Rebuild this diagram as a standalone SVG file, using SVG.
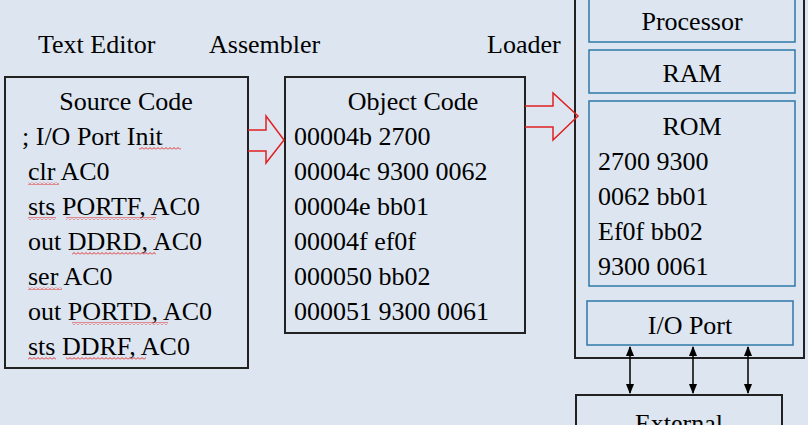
<svg xmlns="http://www.w3.org/2000/svg" width="808" height="425" viewBox="0 0 808 425" font-family="'Liberation Serif', 'DejaVu Serif', serif" font-size="26">
<defs>
<style>
text{font-family:'Liberation Serif','DejaVu Serif',serif;font-size:26px;fill:#000}
.c{text-anchor:middle}
.box{fill:none;stroke:#222;stroke-width:2}
.blue{fill:none;stroke:#2e78a8;stroke-width:1.5}
.hol{fill:none;stroke:#e02020;stroke-width:1.5}
.sq{fill:none;stroke:#e03030;stroke-width:1}
.bi{stroke:#000;stroke-width:1.5;marker-start:url(#ah);marker-end:url(#ah)}
</style>
<marker id="ah" viewBox="0 0 10 10" refX="9" refY="5" markerWidth="7" markerHeight="7" orient="auto-start-reverse"><path d="M0,1L10,5L0,9z" fill="#000"/></marker>
<pattern id="wv" width="4" height="3" patternUnits="userSpaceOnUse"><path d="M0,2.5L2,0.5L4,2.5" class="sq"/></pattern>
</defs>
<rect width="808" height="425" fill="#dde6f0"/>
<text x="38" y="53">Text Editor</text>
<text x="209" y="53">Assembler</text>
<text x="487" y="53">Loader</text>
<g id="source">
<rect class="box" x="5" y="77" width="243" height="291"/>
<text class="c" x="126" y="110">Source Code</text>
<text x="22" y="145">; I/O Port Init</text>
<text x="28" y="180">clr AC0</text>
<text x="28" y="215">sts PORTF, AC0</text>
<text x="28" y="250">out DDRD, AC0</text>
<text x="28" y="285">ser AC0</text>
<text x="28" y="320">out PORTD, AC0</text>
<text x="28" y="355">sts DDRF, AC0</text>
<g fill="url(#wv)">
<rect x="139" y="147" width="42" height="3"/>
<rect x="28" y="182" width="31" height="3"/>
<rect x="28" y="217" width="28" height="3"/>
<rect x="66" y="217" width="90" height="3"/>
<rect x="72" y="252" width="84" height="3"/>
<rect x="28" y="287" width="34" height="3"/>
<rect x="72" y="322" width="96" height="3"/>
<rect x="28" y="357" width="28" height="3"/>
<rect x="66" y="357" width="80" height="3"/>
</g>
</g>
<g id="object">
<rect class="box" x="285" y="77" width="240" height="256"/>
<text class="c" x="413" y="110">Object Code</text>
<text x="294" y="145">00004b 2700</text>
<text x="294" y="180">00004c 9300 0062</text>
<text x="294" y="215">00004e bb01</text>
<text x="294" y="250">00004f ef0f</text>
<text x="294" y="285">000050 bb02</text>
<text x="294" y="320">000051 9300 0061</text>
</g>
<g id="board">
<rect class="box" x="575" y="-5" width="229" height="363"/>
<rect class="blue" x="589" y="-5" width="206" height="47"/>
<text class="c" x="692" y="30">Processor</text>
<rect class="blue" x="589" y="50" width="206" height="43"/>
<text class="c" x="692" y="82">RAM</text>
<rect class="blue" x="589" y="101" width="206" height="185"/>
<text class="c" x="692" y="135">ROM</text>
<text x="598" y="170">2700 9300</text>
<text x="598" y="205">0062 bb01</text>
<text x="598" y="240">Ef0f bb02</text>
<text x="598" y="275">9300 0061</text>
<rect class="blue" x="587" y="301" width="206" height="44"/>
<text class="c" x="690" y="334">I/O Port</text>
</g>
<g id="external">
<rect class="box" x="576" y="395" width="206" height="40"/>
<text class="c" x="679" y="432">External</text>
</g>
<g id="connectors">
<path class="hol" d="M248,130H266V116L284,140L266,163V151H248"/>
<path class="hol" d="M525,106H553V93L578,116L553,140V127H525"/>
<line class="bi" x1="630" y1="347" x2="630" y2="393"/>
<line class="bi" x1="693" y1="347" x2="693" y2="393"/>
<line class="bi" x1="748" y1="347" x2="748" y2="393"/>
</g>
</svg>
